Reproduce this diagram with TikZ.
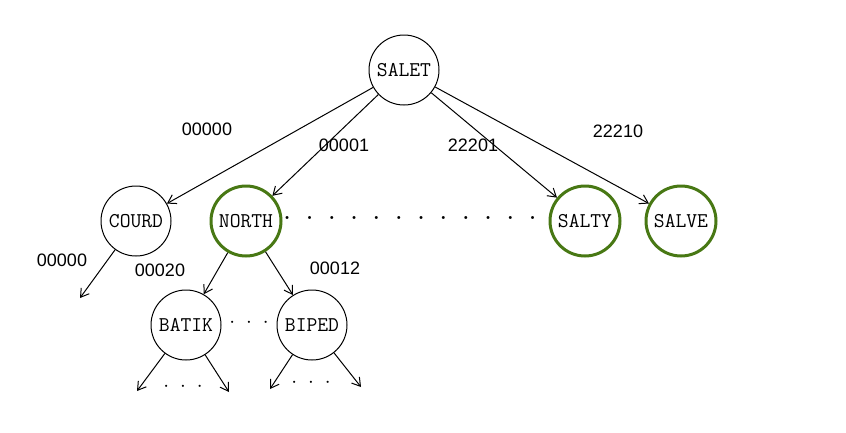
\documentclass[tikz,border=0pt]{standalone}
\usepackage{fontspec}
\newfontfamily\lblfont{Liberation Sans}
\usetikzlibrary{arrows.meta}
\newcommand{\bigf}{\fontsize{21}{24}\selectfont}
\begin{document}
\begin{tikzpicture}[x=1pt,y=-1pt,
  nd/.style={circle,draw,line width=1pt,minimum size=70pt,inner sep=0pt,font=\bigf\ttfamily},
  win/.style={nd,draw={rgb,255:red,72;green,120;blue,20},line width=3pt},
  ed/.style={-{Straight Barb[length=8pt,width=10pt]},line width=1pt},
  lb/.style={font=\lblfont\fontsize{18}{22}\selectfont}]
\useasboundingbox (0,0) rectangle (846,432);
\node[nd] (salet) at (404,70) {SALET};
\node[nd] (courd) at (136,221) {COURD};
\node[win] (north) at (246,221) {NORTH};
\node[win] (salty) at (585,221) {SALTY};
\node[win] (salve) at (681,221) {SALVE};
\node[nd] (batik) at (186,325) {BATIK};
\node[nd] (biped) at (312,325) {BIPED};
\node[font=\bigf] (dots) at (410,218) {\textbf{.\ \ .\ \ .\ \ .\ \ .\ \ .\ \ .\ \ .\ \ .\ \ .\ \ .\ \ .}};
\node[font=\bigf] (bd) at (249,323) {$\cdot\ \cdot\ \cdot$};
\node[font=\bigf] (d1) at (183,387) {$\cdot\ \cdot\ \cdot$};
\node[font=\bigf] (d2) at (311,383) {$\cdot\ \cdot\ \cdot$};
\coordinate (c0) at (80,298);
\coordinate (a1) at (137,391); \coordinate (a2) at (229,392);
\coordinate (b1) at (270,389); \coordinate (b2) at (361,387);
\draw[ed] (salet) -- (courd);
\draw[ed] (salet) -- (north);
\draw[ed] (salet) -- (salty);
\draw[ed] (salet) -- (salve);
\draw[ed] (courd) -- (c0);
\draw[ed] (north) -- (batik);
\draw[ed] (north) -- (biped);
\draw[ed] (batik) -- (a1); \draw[ed] (batik) -- (a2);
\draw[ed] (biped) -- (b1); \draw[ed] (biped) -- (b2);
\node[lb] (l1) at (207,129) {00000};
\node[lb] (l2) at (344,145) {00001};
\node[lb] (l3) at (473,145) {22201};
\node[lb] (l4) at (618,131) {22210};
\node[lb] (l5) at (62,260) {00000};
\node[lb] (l6) at (160,270) {00020};
\node[lb] (l7) at (335,268) {00012};
\end{tikzpicture}
\end{document}
